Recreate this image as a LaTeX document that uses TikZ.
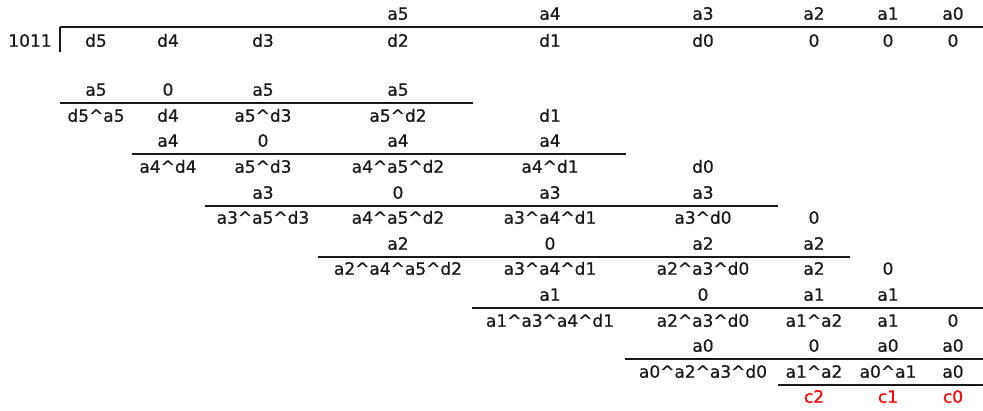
\documentclass[tikz,border=0pt]{standalone}
\usepackage{fontspec}
\setmainfont{DejaVu Sans}
\newfontfamily\cellfont[FakeBold=0.7]{DejaVu Sans}
\usepackage{xcolor}
\newcommand{\xorop}{\textasciicircum}
\tikzstyle{cell} = [text centered, inner sep=0pt, text height=0.75em, text depth=0pt, text=black!90, font=\cellfont\fontsize{17}{20}\selectfont]
\tikzstyle{carry} = [cell, text=red]
\tikzstyle{rule} = [line width=1.1pt, black!90]
\tikzstyle{thickrule} = [line width=2pt, black!90]

\begin{document}
\begin{tikzpicture}[x=1pt,y=-1pt]
	\useasboundingbox (0,0) rectangle (983,411);
	% dividend and divisor
	\node [cell] at (398,16) (r1c4) {a5};
	\node [cell] at (550,16) (r1c5) {a4};
	\node [cell] at (703,16) (r1c6) {a3};
	\node [cell] at (814,16) (r1c7) {a2};
	\node [cell] at (888,16) (r1c8) {a1};
	\node [cell] at (953,16) (r1c9) {a0};
	\node [cell] at (30,43) (r2c0) {1011};
	\node [cell] at (96,43) (r2c1) {d5};
	\node [cell] at (168,43) (r2c2) {d4};
	\node [cell] at (263,43) (r2c3) {d3};
	\node [cell] at (398,43) (r2c4) {d2};
	\node [cell] at (550,43) (r2c5) {d1};
	\node [cell] at (703,43) (r2c6) {d0};
	\node [cell] at (814,43) (r2c7) {0};
	\node [cell] at (888,43) (r2c8) {0};
	\node [cell] at (953,43) (r2c9) {0};
	\draw [rule] (60,27) -- (983,27);
	\draw [rule] (60,27) -- (60,52);

	% step a5
	\node [cell] at (96,92) (r3c1) {a5};
	\node [cell] at (168,92) (r3c2) {0};
	\node [cell] at (263,92) (r3c3) {a5};
	\node [cell] at (398,92) (r3c4) {a5};
	\draw [rule] (60,103) -- (473,103);
	\node [cell] at (96,118) (r4c1) {d5\xorop a5};
	\node [cell] at (168,118) (r4c2) {d4};
	\node [cell] at (263,118) (r4c3) {a5\xorop d3};
	\node [cell] at (398,118) (r4c4) {a5\xorop d2};
	\node [cell] at (550,118) (r4c5) {d1};

	% step a4
	\node [cell] at (168,143) (r5c2) {a4};
	\node [cell] at (263,143) (r5c3) {0};
	\node [cell] at (398,143) (r5c4) {a4};
	\node [cell] at (550,143) (r5c5) {a4};
	\draw [rule] (132,154) -- (626,154);
	\node [cell] at (168,169) (r6c2) {a4\xorop d4};
	\node [cell] at (263,169) (r6c3) {a5\xorop d3};
	\node [cell] at (398,169) (r6c4) {a4\xorop a5\xorop d2};
	\node [cell] at (550,169) (r6c5) {a4\xorop d1};
	\node [cell] at (703,169) (r6c6) {d0};

	% step a3
	\node [cell] at (263,195) (r7c3) {a3};
	\node [cell] at (398,195) (r7c4) {0};
	\node [cell] at (550,195) (r7c5) {a3};
	\node [cell] at (703,195) (r7c6) {a3};
	\draw [thickrule] (205,206) -- (778,206);
	\node [cell] at (263,220) (r8c3) {a3\xorop a5\xorop d3};
	\node [cell] at (398,220) (r8c4) {a4\xorop a5\xorop d2};
	\node [cell] at (550,220) (r8c5) {a3\xorop a4\xorop d1};
	\node [cell] at (703,220) (r8c6) {a3\xorop d0};
	\node [cell] at (814,220) (r8c7) {0};

	% step a2
	\node [cell] at (398,246) (r9c4) {a2};
	\node [cell] at (550,246) (r9c5) {0};
	\node [cell] at (703,246) (r9c6) {a2};
	\node [cell] at (814,246) (r9c7) {a2};
	\draw [rule] (318,257) -- (850,257);
	\node [cell] at (398,271) (r10c4) {a2\xorop a4\xorop a5\xorop d2};
	\node [cell] at (550,271) (r10c5) {a3\xorop a4\xorop d1};
	\node [cell] at (703,271) (r10c6) {a2\xorop a3\xorop d0};
	\node [cell] at (814,271) (r10c7) {a2};
	\node [cell] at (888,271) (r10c8) {0};

	% step a1
	\node [cell] at (550,297) (r11c5) {a1};
	\node [cell] at (703,297) (r11c6) {0};
	\node [cell] at (814,297) (r11c7) {a1};
	\node [cell] at (888,297) (r11c8) {a1};
	\draw [rule] (472,308) -- (983,308);
	\node [cell] at (550,323) (r12c5) {a1\xorop a3\xorop a4\xorop d1};
	\node [cell] at (703,323) (r12c6) {a2\xorop a3\xorop d0};
	\node [cell] at (814,323) (r12c7) {a1\xorop a2};
	\node [cell] at (888,323) (r12c8) {a1};
	\node [cell] at (953,323) (r12c9) {0};

	% step a0
	\node [cell] at (703,348) (r13c6) {a0};
	\node [cell] at (814,348) (r13c7) {0};
	\node [cell] at (888,348) (r13c8) {a0};
	\node [cell] at (953,348) (r13c9) {a0};
	\draw [rule] (625,359) -- (983,359);
	\node [cell] at (703,374) (r14c6) {a0\xorop a2\xorop a3\xorop d0};
	\node [cell] at (814,374) (r14c7) {a1\xorop a2};
	\node [cell] at (888,374) (r14c8) {a0\xorop a1};
	\node [cell] at (953,374) (r14c9) {a0};

	% remainder
	\draw [rule] (778,385) -- (983,385);
	\node [carry] at (814,399) (r15c7) {c2};
	\node [carry] at (888,399) (r15c8) {c1};
	\node [carry] at (953,399) (r15c9) {c0};
\end{tikzpicture}
\end{document}
